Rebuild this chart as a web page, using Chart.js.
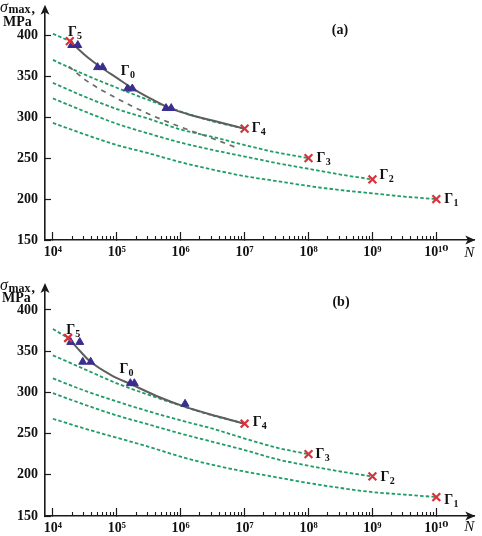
<!DOCTYPE html>
<html><head><meta charset="utf-8">
<script src="https://cdn.jsdelivr.net/npm/chart.js@4.4.0/dist/chart.umd.min.js"></script>
<style>
html,body{margin:0;padding:0;background:#fff;}
#wrap{width:482px;height:536px;position:relative;overflow:hidden;}
.panel{position:absolute;left:0;width:482px;height:268px;}
#pa{top:0;} #pb{top:268px;}
</style></head><body>
<div id="wrap">
<div class="panel" id="pa"><canvas id="ca" width="482" height="268"></canvas></div>
<div class="panel" id="pb"><canvas id="cb" width="482" height="268"></canvas></div>
</div>
<script>
// ================= DATA =================
// shared N grid for the model curves (half-decade steps)
const gridN = [1e4, 3.16e4, 1e5, 3.16e5, 1e6, 3.16e6, 1e7, 3.16e7, 1e8, 3.16e8, 1e9, 3.16e9, 1e10];
const xTickValues = [1e4, 1e5, 1e6, 1e7, 1e8, 1e9, 1e10];
const xTickLabels = ['10⁴', '10⁵', '10⁶', '10⁷', '10⁸', '10⁹', '10¹⁰'];
const xMinorTicks = [2e4,3e4,4e4,5e4,6e4,7e4,8e4,9e4, 2e5,3e5,4e5,5e5,6e5,7e5,8e5,9e5,
  2e6,3e6,4e6,5e6,6e6,7e6,8e6,9e6, 2e7,3e7,4e7,5e7,6e7,7e7,8e7,9e7,
  2e8,3e8,4e8,5e8,6e8,7e8,8e8,9e8, 2e9,3e9,4e9,5e9,6e9,7e9,8e9,9e9];
const yTickValues = [150, 200, 250, 300, 350, 400];
const gammaSubs = ['1', '2', '3', '4', '5'];

// ---- panel (a) ----
const a_g1 = [293, 279, 266, 256, 245, 236, 228, 222, 216, 211, 207, 203, 200];
const a_g2 = [323, 307, 292, 280, 269, 260, 252, 244, 237, 230, 224];
const a_g3 = [342, 325, 310, 298, 285, 276, 266, 257, 250];
const a_g4 = [370, 352, 336, 321, 307, 295, 286];
const a_g5N = [1e4, 1.84e4];
const a_g5 = [402, 393];
const a_gammaN = [1e10, 1e9, 1e8, 1e7, 1.84e4];
const a_gammaS = [200, 224, 250, 286, 393];
const a_fitN = [1.84e4, 3.16e4, 5.62e4, 1e5, 1.78e5, 3.16e5, 6.31e5, 1.26e6, 3.16e6, 1e7];
const a_fitS = [393, 376, 361, 348, 335, 324, 312, 304, 296, 286];
const a_dashN = [1.78e4, 3.16e4, 1e5, 3.16e5, 1e6, 3.16e6, 7.94e6];
const a_dashS = [362, 346, 323, 304, 288, 274, 262];
const a_triN = [1.97e4, 2.45e4, 5.0e4, 6.0e4, 1.47e5, 1.75e5, 5.9e5, 7.1e5];
const a_triS = [388, 388, 361, 361, 335, 335, 311, 311];
const a_fitLabel = [1.48e5, 356.5];

// ---- panel (b) ----
const b_g1 = [268, 256, 245, 234, 222, 212, 204, 197, 190, 184, 179, 176, 173];
const b_g2 = [299, 285, 272, 261, 250, 240, 230, 219, 211, 204, 198];
const b_g3 = [317, 302, 289, 277, 266, 256, 244, 233, 225];
const b_g4 = [345, 328, 311, 297, 284, 272, 262];
const b_g5N = [1e4, 1.73e4];
const b_g5 = [377, 366];
const b_gammaN = [1e10, 1e9, 1e8, 1e7, 1.73e4];
const b_gammaS = [173, 198, 225, 262, 366];
const b_fitN = [1.73e4, 2.34e4, 3.76e4, 8.13e4, 1.78e5, 4.37e5, 1.12e6, 3.72e6, 1e7];
const b_fitS = [366, 355, 338, 321, 309, 295, 283, 271, 262];
const b_triN = [1.9e4, 2.63e4, 2.93e4, 3.9e4, 1.63e5, 1.88e5, 1.17e6];
const b_triS = [361, 361, 337, 337, 311, 311, 286];
const b_fitLabel = [1.41e5, 328.4];

// ================= STYLE =================
const FONT = "'Liberation Serif', 'DejaVu Serif', serif";
const COL = { axis: '#1a1a1a', green: '#1f9d66', grey: '#5e5e5e', dash: '#6b6b6b',
              red: '#d8323c', tri: '#3a2e8f', text: '#111111' };

function pts(ns, ss) { return ss.map((s, i) => ({ x: ns[i], y: s })); }
function lineDs(ns, ss, color, width, dash) {
  return { data: pts(ns, ss), showLine: true, borderColor: color, borderWidth: width,
           borderDash: dash, pointRadius: 0, fill: false, cubicInterpolationMode: 'monotone' };
}
function markDs(ns, ss, style, r, color, bw) {
  return { data: pts(ns, ss), showLine: false, pointStyle: style, pointRadius: r,
           pointBorderColor: color, pointBackgroundColor: color, pointBorderWidth: bw,
           borderColor: color, backgroundColor: color };
}
const GREEN_DASH = [3.5, 2.2];

function arrow(ctx, tx, ty, dx, dy) {
  const L = 10, W = 4.5, B = 2.5;
  const px = -dy, py = dx;
  ctx.beginPath();
  ctx.moveTo(tx, ty);
  ctx.lineTo(tx - dx * L + px * W, ty - dy * L + py * W);
  ctx.lineTo(tx - dx * (L - B), ty - dy * (L - B));
  ctx.lineTo(tx - dx * L - px * W, ty - dy * L - py * W);
  ctx.closePath();
  ctx.fill();
}
function drawSub(ctx, cx, cy, main, sub) {
  const mf = 'bold 14px ' + FONT, sf = 'bold 10px ' + FONT;
  ctx.font = mf; const w1 = ctx.measureText(main).width;
  ctx.font = sf; const w2 = ctx.measureText(sub).width;
  const x0 = cx - (w1 + w2) / 2;
  ctx.textBaseline = 'middle'; ctx.textAlign = 'left';
  ctx.font = mf; ctx.fillText(main, x0, cy);
  ctx.font = sf; ctx.fillText(sub, x0 + w1 + 0.3, cy + 4);
}

const decorPlugin = {
  id: 'decor',
  afterDraw(chart, args, o) {
    const { ctx, chartArea: ca, scales } = chart;
    const xs = scales.x, ys = scales.y;
    ctx.save();
    ctx.fillStyle = COL.axis;
    arrow(ctx, ca.left, ca.top - 3, 0, -1);
    arrow(ctx, ca.right + 1, ca.bottom, 1, 0);
    ctx.fillStyle = COL.text;
    // y title
    ctx.textAlign = 'left'; ctx.textBaseline = 'alphabetic';
    ctx.font = 'italic 16px ' + FONT;
    const sw = ctx.measureText('σ').width;
    ctx.fillText('σ', 0, ca.top + o.sigmaDy);
    ctx.font = 'bold 12px ' + FONT;
    const mw = ctx.measureText('max').width;
    ctx.fillText('max', sw + 0.5, ca.top + o.sigmaDy + 1.5);
    ctx.font = 'bold 14px ' + FONT;
    ctx.fillText(',', sw + mw + 1.5, ca.top + o.sigmaDy + 1.5);
    ctx.fillText('MPa', o.mpaX, ca.top + o.mpaDy);
    // panel label
    ctx.textAlign = 'center'; ctx.textBaseline = 'middle';
    ctx.font = 'bold 14px ' + FONT;
    ctx.fillText(o.panel, o.panelX, o.panelY);
    // gamma labels
    o.gammaN.forEach((n, i) => {
      const px = xs.getPixelForValue(n) + o.offsets[i][0];
      const py = ys.getPixelForValue(o.gammaS[i]) + o.offsets[i][1];
      drawSub(ctx, px, py, 'Γ', gammaSubs[i]);
    });
    drawSub(ctx, xs.getPixelForValue(o.fitLabel[0]), ys.getPixelForValue(o.fitLabel[1]), 'Γ', '0');
    ctx.restore();
  }
};

function noPad(s) { s.paddingTop = 0; s.paddingBottom = 0; s.paddingLeft = 0; s.paddingRight = 0; }

function buildChart(canvas, p) {
  const tickFont = { family: FONT, weight: 'bold', size: 14, lineHeight: 1.2 };
  return new Chart(canvas, {
    type: 'scatter',
    data: { datasets: p.datasets },
    options: {
      responsive: false, animation: false, events: [],
      layout: { padding: { top: p.padTop, right: 5, bottom: 0, left: 0 } },
      plugins: { legend: { display: false }, tooltip: { enabled: false }, decor: p.decor },
      scales: {
        x: {
          type: 'logarithmic', position: 'bottom', weight: 1, min: 7.52e3, max: 3.93e10,
          afterBuildTicks: s => { s.ticks = xTickValues.map(v => ({ value: v, major: true })); },
          afterFit: s => { s.height = p.xHeight; noPad(s); },
          ticks: { autoSkip: false, maxRotation: 0, padding: 12, color: COL.text, font: tickFont,
                   callback: (v, i) => xTickLabels[i] },
          grid: { drawOnChartArea: false, tickLength: -8, tickWidth: 1.2, tickColor: COL.axis },
          border: { color: COL.axis, width: 1.6 },
          title: { display: true, text: 'N', align: 'end', color: COL.text,
                   font: { family: FONT, style: 'italic', size: 15, lineHeight: 1.2 },
                   padding: { top: 0, bottom: p.nPad } }
        },
        xm: {
          type: 'logarithmic', axis: 'x', position: 'bottom', weight: 0, min: 7.52e3, max: 3.93e10,
          afterBuildTicks: s => { s.ticks = xMinorTicks.map(v => ({ value: v })); },
          afterFit: s => { s.height = 0; noPad(s); },
          ticks: { display: false, autoSkip: false },
          grid: { drawOnChartArea: false, tickLength: -4, tickWidth: 1.1, tickColor: COL.axis },
          border: { display: false }
        },
        y: {
          type: 'linear', position: 'left', min: 150, max: p.yMax,
          afterBuildTicks: s => { s.ticks = yTickValues.map(v => ({ value: v })); },
          afterFit: s => { s.width = 45; noPad(s); },
          ticks: { padding: 13, color: COL.text, font: tickFont, callback: v => String(v) },
          grid: { drawOnChartArea: false, tickLength: -6, tickWidth: 1.2, tickColor: COL.axis },
          border: { color: COL.axis, width: 1.6 }
        }
      }
    },
    plugins: [decorPlugin]
  });
}

const dsA = [
  markDs(a_gammaN, a_gammaS, 'crossRot', 5.5, COL.red, 2.2),
  markDs(a_triN, a_triS, 'triangle', 4.6, COL.tri, 1),
  lineDs(a_fitN, a_fitS, COL.grey, 2, []),
  lineDs(a_dashN, a_dashS, COL.dash, 1.7, [5, 5]),
  lineDs(a_g5N, a_g5, COL.green, 1.8, GREEN_DASH),
  lineDs(gridN.slice(0, a_g4.length), a_g4, COL.green, 1.8, GREEN_DASH),
  lineDs(gridN.slice(0, a_g3.length), a_g3, COL.green, 1.8, GREEN_DASH),
  lineDs(gridN.slice(0, a_g2.length), a_g2, COL.green, 1.8, GREEN_DASH),
  lineDs(gridN.slice(0, a_g1.length), a_g1, COL.green, 1.8, GREEN_DASH)
];
const dsB = [
  markDs(b_gammaN, b_gammaS, 'crossRot', 5.5, COL.red, 2.2),
  markDs(b_triN, b_triS, 'triangle', 4.6, COL.tri, 1),
  lineDs(b_fitN, b_fitS, COL.grey, 2, []),
  lineDs(b_g5N, b_g5, COL.green, 1.8, GREEN_DASH),
  lineDs(gridN.slice(0, b_g4.length), b_g4, COL.green, 1.8, GREEN_DASH),
  lineDs(gridN.slice(0, b_g3.length), b_g3, COL.green, 1.8, GREEN_DASH),
  lineDs(gridN.slice(0, b_g2.length), b_g2, COL.green, 1.8, GREEN_DASH),
  lineDs(gridN.slice(0, b_g1.length), b_g1, COL.green, 1.8, GREEN_DASH)
];

buildChart(document.getElementById('ca'), {
  datasets: dsA, padTop: 5, xHeight: 28, yMax: 433.8, nPad: 6,
  decor: { panel: '(a)', panelX: 340, panelY: 30, sigmaDy: 4, mpaX: 3, mpaDy: 18,
           gammaN: a_gammaN, gammaS: a_gammaS,
           offsets: [[15, 0], [14, -4], [15, 0], [14, 0], [5, -9]], fitLabel: a_fitLabel }
});
buildChart(document.getElementById('cb'), {
  datasets: dsB, padTop: 18, xHeight: 20, yMax: 429.1, nPad: 0,
  decor: { panel: '(b)', panelX: 341, panelY: 34, sigmaDy: 4, mpaX: 2, mpaDy: 16,
           gammaN: b_gammaN, gammaS: b_gammaS,
           offsets: [[15, 3], [15, 1], [14, 0], [15, -1], [5, -8]], fitLabel: b_fitLabel }
});
</script>
</body></html>
